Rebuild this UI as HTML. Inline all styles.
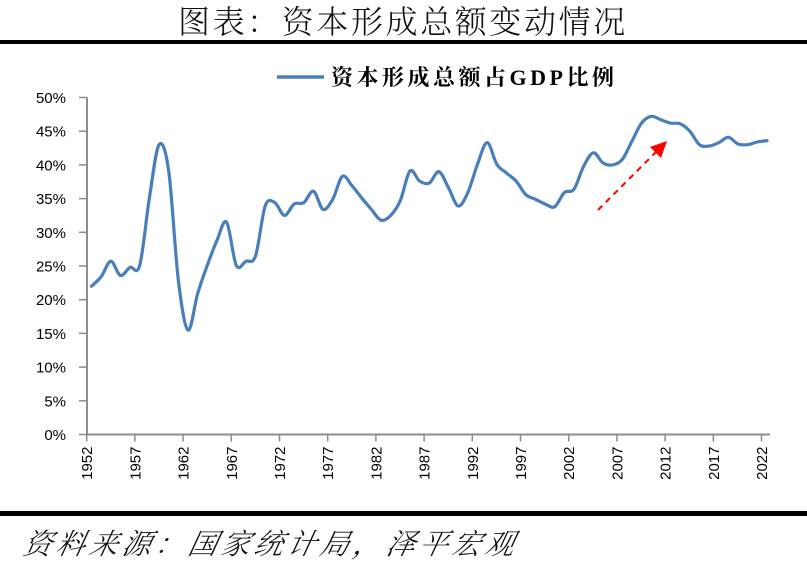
<!DOCTYPE html>
<html><head><meta charset="utf-8"><style>
body{margin:0;background:#fff;width:807px;height:570px;overflow:hidden;position:relative;font-family:"Liberation Sans",sans-serif}
.t{position:absolute;white-space:nowrap}
</style></head><body>
<div class="t" style="left:178px;top:0px;font-family:'Noto Serif CJK SC',serif;font-weight:300;font-size:32px;letter-spacing:2.6px;line-height:40px;color:#111">图表：资本形成总额变动情况</div>
<div style="position:absolute;left:0;top:40px;width:807px;height:4px;background:#000"></div>
<div style="position:absolute;left:0;top:511px;width:807px;height:5px;background:#000"></div>
<div class="t" style="left:24px;top:525px;font-family:'Noto Serif CJK SC',serif;font-weight:300;font-style:italic;transform:skewX(-12deg);font-size:29px;letter-spacing:4px;line-height:36px;color:#111">资料来源：国家统计局，泽平宏观</div>
<svg id="chart" width="807" height="570" style="position:absolute;left:0;top:0">
<g id="g"></g>
</svg>
<script>
const years=[];for(let y=1952;y<=2022;y++)years.push(y);
const values=[22.0,23.4,25.7,23.6,24.8,25.1,35.1,43.0,39.1,22.9,15.5,20.9,25.1,28.8,31.5,25.1,25.7,26.5,33.9,34.4,32.5,34.2,34.4,36.1,33.4,34.9,38.3,36.9,35.1,33.4,31.8,32.5,34.7,39.1,37.6,37.3,39.0,36.6,33.9,35.9,40.1,43.3,40.1,38.8,37.6,35.6,34.9,34.2,33.8,35.9,36.4,39.8,41.8,40.3,40.0,40.8,43.5,46.2,47.2,46.7,46.2,46.1,45.0,43.0,42.8,43.3,44.1,43.1,43.0,43.4,43.6];
const yTicks=[0,5,10,15,20,25,30,35,40,45,50];
const xTickYears=[1952,1957,1962,1967,1972,1977,1982,1987,1992,1997,2002,2007,2012,2017,2022];
const X0=87,X1=770,Y0=434.5,Y50=97.5;
const step=9.65;
const xs=y=>91.5+(y-1952)*step;
const tickX=y=>86.7+(y-1952)*9.64;
const ys=v=>Y0-(v/50)*(Y0-Y50);
const NS='http://www.w3.org/2000/svg';
const g=document.getElementById('g');
function mk(t,a){const e=document.createElementNS(NS,t);for(const k in a)e.setAttribute(k,a[k]);g.appendChild(e);return e;}
let e;
e=mk('line',{x1:X0,y1:Y50,x2:X0,y2:Y0,stroke:'#8c8c8c','stroke-width':2});


e=mk('line',{x1:X0,y1:Y0,x2:X1,y2:Y0,stroke:'#8c8c8c','stroke-width':2});


yTicks.forEach(v=>{const y=ys(v);
 e=mk('line',{x1:X0-8,y1:y,x2:X0,y2:y,stroke:'#8c8c8c','stroke-width':1.5});
 
 
 e=mk('text',{x:66,y:y+5.5,'text-anchor':'end','font-size':15,fill:'#000','font-family':'Liberation Sans, sans-serif'});
 e.textContent=v+'%';
 
 
});
xTickYears.forEach(yr=>{const x=tickX(yr);
 e=mk('line',{x1:x,y1:Y0,x2:x,y2:Y0+7,stroke:'#8c8c8c','stroke-width':1.5});
 
 
 e=mk('text',{x:0,y:0,'text-anchor':'end','font-size':15,fill:'#000','font-family':'Liberation Sans, sans-serif',transform:`translate(${x+5.5},${Y0+12}) rotate(-90)`});
 e.textContent=yr;
 
 
});
const pts=years.map((y,i)=>[xs(y),ys(values[i])]);
let d='M'+pts[0][0]+','+pts[0][1];
for(let i=0;i<pts.length-1;i++){const p0=pts[Math.max(0,i-1)],p1=pts[i],p2=pts[i+1],p3=pts[Math.min(pts.length-1,i+2)];
 const t=1/6;
 d+=` C${p1[0]+(p2[0]-p0[0])*t},${p1[1]+(p2[1]-p0[1])*t} ${p2[0]-(p3[0]-p1[0])*t},${p2[1]-(p3[1]-p1[1])*t} ${p2[0]},${p2[1]}`;}
e=mk('path',{d:d,fill:'none',stroke:'#4a7ebb','stroke-width':3.2,'stroke-linejoin':'round','stroke-linecap':'round'});


e=mk('line',{x1:598,y1:210,x2:656,y2:152,stroke:'#ff0000','stroke-width':2,'stroke-dasharray':'6,5'});


e=mk('polygon',{points:'667,141 661,158 650,147',fill:'#ff0000'});


e=mk('line',{x1:277,y1:77,x2:324,y2:77,stroke:'#4a7ebb','stroke-width':3.5});


e=mk('text',{x:331,y:85,'font-size':22,'font-weight':'bold','letter-spacing':3.5,fill:'#000','font-family':'Liberation Serif, Noto Serif CJK SC, serif'});
e.textContent='资本形成总额占GDP比例';


</script>
</body></html>
